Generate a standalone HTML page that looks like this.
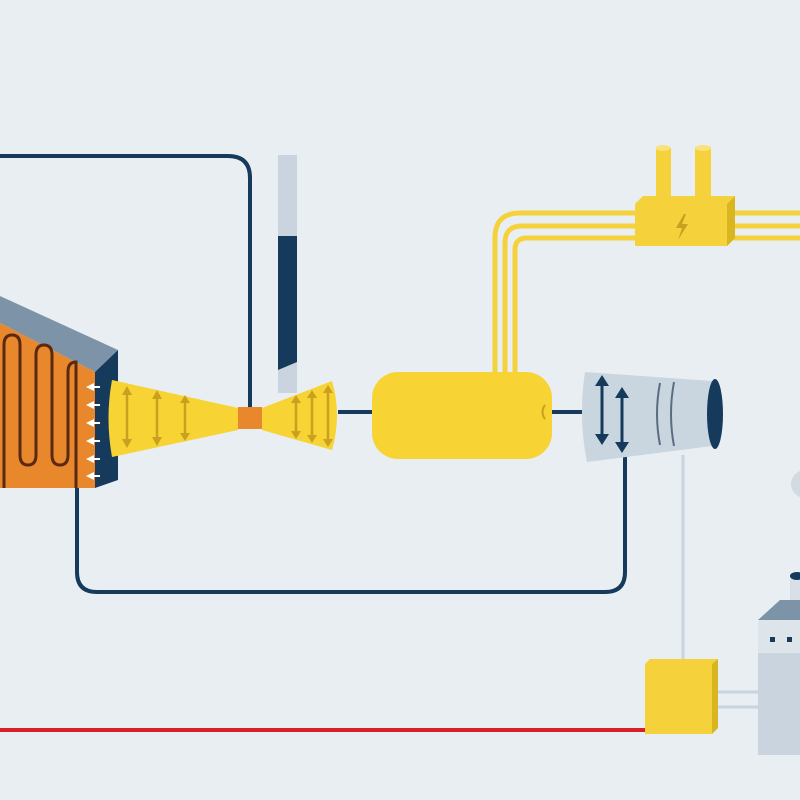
<!DOCTYPE html>
<html><head><style>html,body{margin:0;padding:0;background:#e9eef3}svg{display:block}</style></head>
<body>
<svg width="800" height="800" viewBox="0 0 800 800" xmlns="http://www.w3.org/2000/svg">
<rect width="800" height="800" fill="#e9eef3"/>
<!-- top navy loop -->
<path d="M0,156 H228 Q250,156 250,178 V410" fill="none" stroke="#163a5c" stroke-width="4"/>
<!-- vertical gauge bar -->
<rect x="278" y="155" width="19" height="238" fill="#c9d4de"/>
<polygon points="278,236 297,236 297,362 278,370" fill="#163a5c"/>
<!-- bottom loop -->
<path d="M77,480 V572 Q77,592 97,592 H605 Q625,592 625,572 V455" fill="none" stroke="#163a5c" stroke-width="4"/>
<!-- box -->
<polygon points="0,296 118,350 95,372 0,323" fill="#7d93a8"/>
<polygon points="0,323 95,372 95,488 0,488" fill="#e8872c"/>
<polygon points="95,372 118,350 118,480 95,488" fill="#163a5c"/>
<path d="M4,488 V345 Q4,335 12,335 Q20,335 20,345 V455 Q20,465 28,465 Q36,465 36,455 V355 Q36,345 44,345 Q52,345 52,355 V455 Q52,465 60,465 Q68,465 68,455 V372 Q68,362 76,362 V488" fill="none" stroke="#5a2a10" stroke-width="3"/>
<g fill="#fff">
<polygon points="86,387 94,383 94,391"/><polygon points="86,405 94,401 94,409"/><polygon points="86,423 94,419 94,427"/><polygon points="86,441 94,437 94,445"/><polygon points="86,459 94,455 94,463"/><polygon points="86,476 94,472 94,480"/>
<rect x="92" y="386" width="8" height="2"/><rect x="92" y="404" width="8" height="2"/><rect x="92" y="422" width="8" height="2"/><rect x="92" y="440" width="8" height="2"/><rect x="92" y="458" width="8" height="2"/><rect x="92" y="475" width="8" height="2"/>
</g>
<!-- nozzles -->
<path d="M112,380 L238,408 V430 L112,457 Q105,418 112,380 Z" fill="#f7d334"/>
<rect x="238" y="407" width="24" height="22" fill="#e8872c"/>
<path d="M262,408 L332,381 Q342,415 332,450 L262,430 Z" fill="#f7d334"/>
<g stroke="#c9a11e" stroke-width="2.5" fill="#c9a11e">
<line x1="127" y1="392" x2="127" y2="442"/><line x1="157" y1="396" x2="157" y2="440"/><line x1="185" y1="400" x2="185" y2="436"/>
<line x1="296" y1="400" x2="296" y2="434"/><line x1="312" y1="395" x2="312" y2="438"/><line x1="328" y1="390" x2="328" y2="442"/>
</g>
<g fill="#c9a11e">
<polygon points="122,395 127,386 132,395"/><polygon points="122,439 127,448 132,439"/>
<polygon points="152,399 157,390 162,399"/><polygon points="152,437 157,446 162,437"/>
<polygon points="180,403 185,395 190,403"/><polygon points="180,433 185,441 190,433"/>
<polygon points="291,403 296,395 301,403"/><polygon points="291,431 296,439 301,431"/>
<polygon points="307,398 312,390 317,398"/><polygon points="307,435 312,443 317,435"/>
<polygon points="323,393 328,385 333,393"/><polygon points="323,439 328,447 333,439"/>
</g>
<!-- connections -->
<line x1="338" y1="412" x2="372" y2="412" stroke="#163a5c" stroke-width="4"/>
<line x1="550" y1="412" x2="585" y2="412" stroke="#163a5c" stroke-width="4"/>
<!-- yellow pipes -->
<g fill="none" stroke="#f5d23b" stroke-width="5">
<path d="M495,372 V238 Q495,213 520,213 H640"/>
<path d="M505,372 V243 Q505,226 522,226 H640"/>
<path d="M515,372 V250 Q515,238 527,238 H640"/>
<line x1="730" y1="213" x2="800" y2="213"/><line x1="730" y1="226" x2="800" y2="226"/><line x1="730" y1="238" x2="800" y2="238"/>
</g>
<!-- generator -->
<rect x="656" y="148" width="15" height="52" fill="#f5d23b"/>
<rect x="695" y="148" width="16" height="52" fill="#f5d23b"/>
<ellipse cx="663" cy="148" rx="7.5" ry="3" fill="#f9e27a"/><ellipse cx="703" cy="148" rx="8" ry="3" fill="#f9e27a"/>
<polygon points="635,204 643,196 735,196 735,238 727,246 635,246" fill="#f5d23b"/>
<polygon points="727,204 735,196 735,238 727,246" fill="#d9b520"/>
<polygon points="684,214 676,228 682,228 678,240 688,224 682,224 686,214" fill="#c9a11e"/>
<!-- tank -->
<rect x="372" y="372" width="180" height="87" rx="26" fill="#f7d334"/>
<path d="M545,405 Q540,412 545,419" fill="none" stroke="#c9a11e" stroke-width="2"/>
<!-- turbine -->
<path d="M585,372 L712,381 V446 L587,462 Q578,417 585,372 Z" fill="#c9d5df"/>
<path d="M660,383 Q654,414 660,445" fill="none" stroke="#5a6d80" stroke-width="2"/>
<path d="M674,382 Q668,414 674,446" fill="none" stroke="#5a6d80" stroke-width="2"/>
<ellipse cx="715" cy="414" rx="8" ry="35" fill="#163a5c"/>
<g stroke="#163a5c" stroke-width="3" fill="#163a5c">
<line x1="602" y1="380" x2="602" y2="440"/><line x1="622" y1="392" x2="622" y2="448"/>
</g>
<g fill="#163a5c">
<polygon points="595,386 602,375 609,386"/><polygon points="595,434 602,445 609,434"/>
<polygon points="615,398 622,387 629,398"/><polygon points="615,442 622,453 629,442"/>
</g>
<!-- lower section -->
<line x1="683" y1="455" x2="683" y2="662" stroke="#c9d4de" stroke-width="3"/>
<line x1="0" y1="730" x2="646" y2="730" stroke="#d9202a" stroke-width="4"/>
<line x1="718" y1="692" x2="760" y2="692" stroke="#c9d4de" stroke-width="3"/>
<line x1="718" y1="707" x2="760" y2="707" stroke="#c9d4de" stroke-width="3"/>
<polygon points="645,664 650,659 718,659 718,728 712,734 645,734" fill="#f5d23b"/>
<polygon points="712,664 718,659 718,728 712,734" fill="#d9b520"/>
<!-- machine -->
<rect x="790" y="575" width="10" height="40" fill="#d8dfe6"/>
<ellipse cx="797" cy="576" rx="7" ry="4" fill="#163a5c"/>
<polygon points="758,620 780,600 800,600 800,620" fill="#7d93a8"/>
<rect x="758" y="620" width="42" height="135" fill="#c9d4de"/>
<rect x="758" y="620" width="42" height="33" fill="#dde4ea"/>
<rect x="770" y="637" width="5" height="5" fill="#163a5c"/><rect x="787" y="637" width="5" height="5" fill="#163a5c"/>
<circle cx="805" cy="484" r="14" fill="#d3dbe2"/>
</svg>
</body></html>
